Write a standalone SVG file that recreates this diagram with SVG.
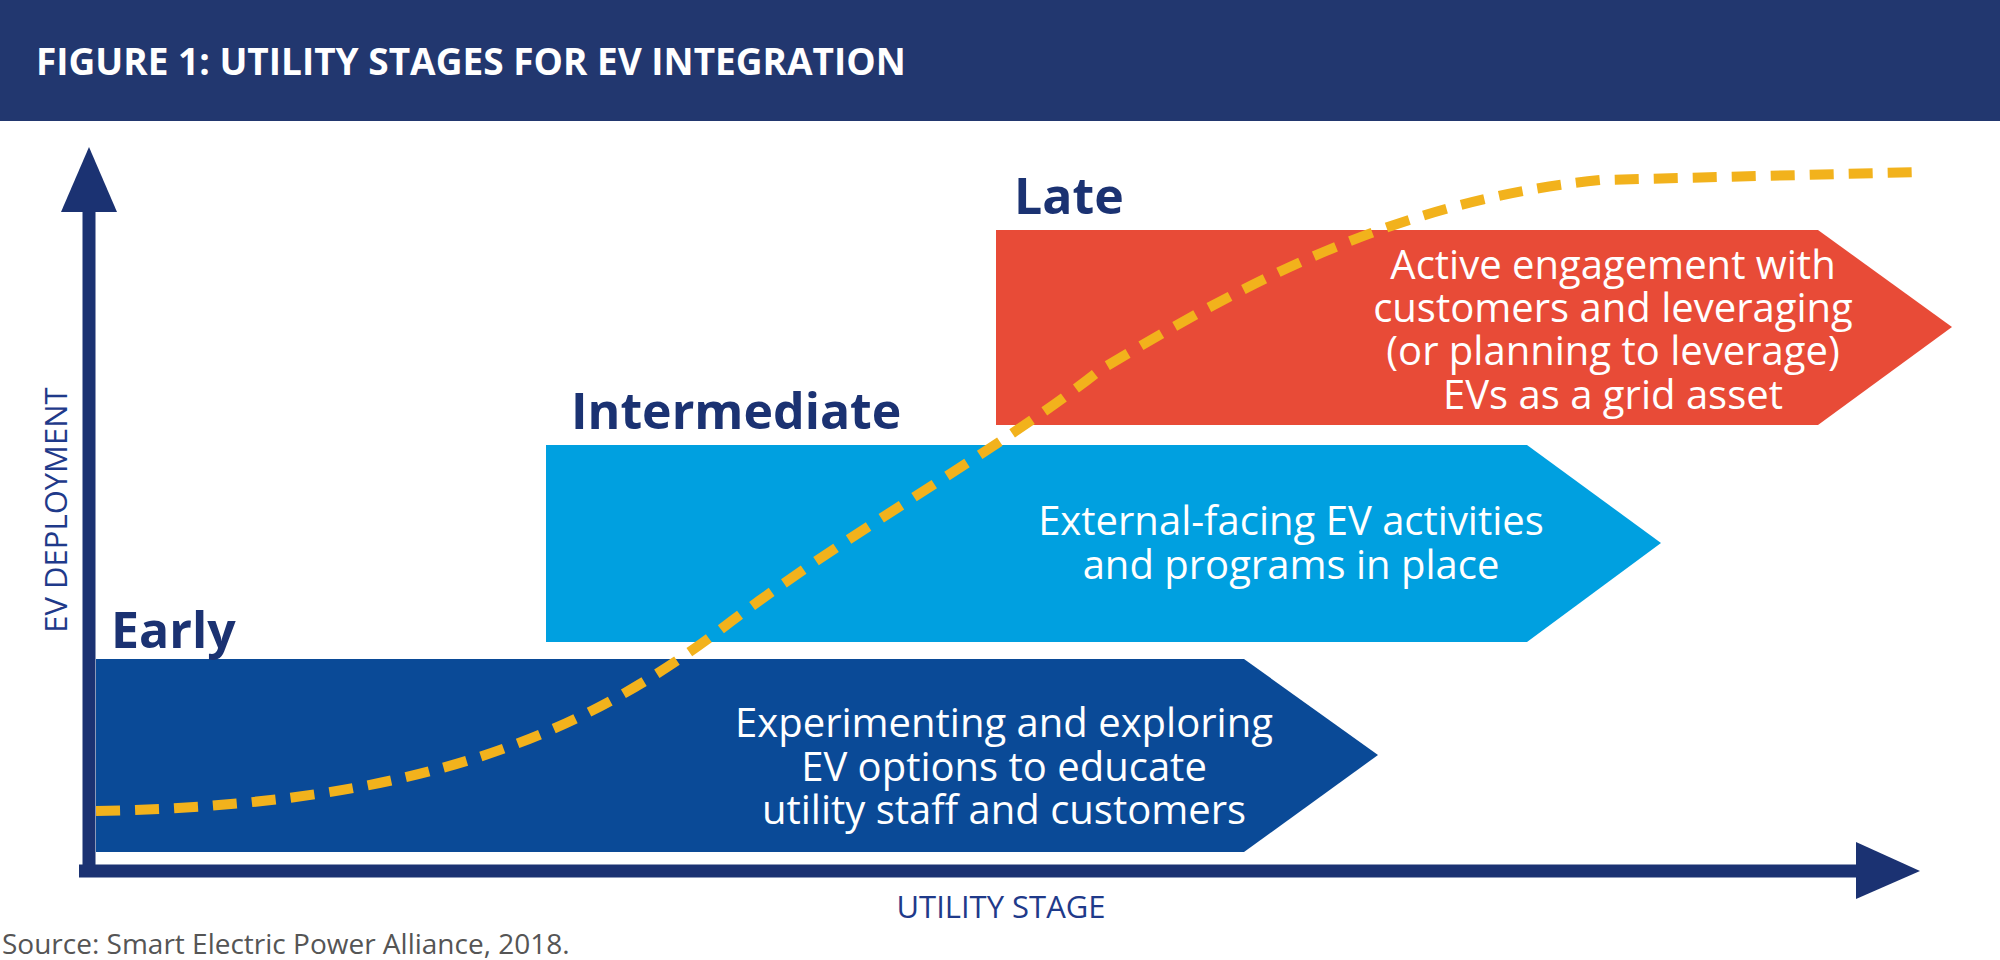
<svg xmlns="http://www.w3.org/2000/svg" width="2000" height="960" viewBox="0 0 2000 960">
<style>
.t{font-family:"Open Sans","Noto Sans",sans-serif;fill:#fff;font-size:40px;text-anchor:middle}
.lab{font-family:"Open Sans","Noto Sans",sans-serif;font-weight:bold;fill:#1b3272;font-size:50px}
.ax{font-family:"Open Sans","Noto Sans",sans-serif;fill:#1f3a8a;font-size:31px}
</style>
<rect width="2000" height="960" fill="#fff"/>
<g id="header"><rect x="0" y="0" width="2000" height="121" fill="#22376f"/>
<text x="36" y="75" font-family="Open Sans, Noto Sans, sans-serif" font-weight="bold" font-size="37" fill="#fff">FIGURE 1: UTILITY STAGES FOR EV INTEGRATION</text></g>
<g id="early"><polygon points="96,659 1244,659 1378,755 1244,852 96,852" fill="#0a4a97"/>
<text class="lab" x="111" y="648">Early</text></g>
<g id="intermediate"><polygon points="546,445 1527,445 1661,543 1527,642 546,642" fill="#00a0e0"/>
<text class="lab" x="571" y="429">Intermediate</text></g>
<g id="late"><polygon points="996,230 1818,230 1952,327 1818,425 996,425" fill="#e84b37"/>
<text class="lab" x="1014" y="214">Late</text></g>
<g id="connectors">
<path d="M96,811 C420,805 580,735 720,630 C850,530 1000,450 1100,370 C1250,280 1400,200 1600,180 L1920,172" fill="none" stroke="#f2b21c" stroke-width="10" stroke-dasharray="24 15"/>
<line x1="89" y1="200" x2="89" y2="875" stroke="#1b3272" stroke-width="13"/>
<polygon points="89,147 117,212 61,212" fill="#1b3272"/>
<line x1="79" y1="871" x2="1870" y2="871" stroke="#1b3272" stroke-width="13"/>
<polygon points="1920,871 1856,842 1856,899" fill="#1b3272"/>
</g>
<g id="texts">
<text class="t" x="1004" y="737">Experimenting and exploring</text>
<text class="t" x="1004" y="781">EV options to educate</text>
<text class="t" x="1004" y="824">utility staff and customers</text>
<text class="t" x="1291" y="535">External-facing EV activities</text>
<text class="t" x="1291" y="579">and programs in place</text>
<text class="t" x="1613" y="279">Active engagement with</text>
<text class="t" x="1613" y="322">customers and leveraging</text>
<text class="t" x="1613" y="365">(or planning to leverage)</text>
<text class="t" x="1613" y="409">EVs as a grid asset</text>
<text class="ax" x="57" y="510" text-anchor="middle" transform="rotate(-90 57 510)" dy="10">EV DEPLOYMENT</text>
<text class="ax" x="1001" y="918" text-anchor="middle">UTILITY STAGE</text>
<text x="2" y="954" font-family="Open Sans, Noto Sans, sans-serif" font-size="28" fill="#555">Source: Smart Electric Power Alliance, 2018.</text>
</g>
</svg>
